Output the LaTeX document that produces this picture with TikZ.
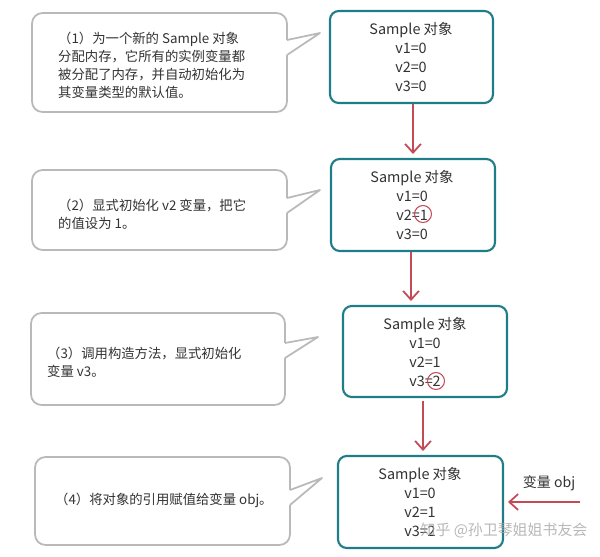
\documentclass[tikz,border=0pt]{standalone}
\usepackage{fontspec}
\setmainfont{Noto Sans CJK SC}
\usetikzlibrary{positioning}
\definecolor{boxteal}{RGB}{30,125,135}
\definecolor{arrred}{RGB}{195,75,85}
\definecolor{callgray}{RGB}{185,185,185}
\tikzset{
  objbox/.style={draw=boxteal, line width=1.2pt, rounded corners=5pt, fill=white},
  callbox/.style={draw=callgray, line width=1pt, rounded corners=6pt, fill=white},
  redarrow/.style={draw=arrred, line width=1pt, ->, >={Straight Barb[length=5pt,width=9pt]}},
  objtext/.style={font=\fontsize{8.2}{10.8}\selectfont, align=center, text=black!80},
  calltext/.style={font=\fontsize{7.6}{10.2}\selectfont, align=left, text=black!80, anchor=north west}
}
\usetikzlibrary{arrows.meta}
\begin{document}
\begin{tikzpicture}[x=0.02cm, y=-0.02cm]
    \useasboundingbox (0,0) rectangle (600,556);
    % object boxes
    \draw[objbox] (330,11) rectangle (493,103);
    \draw[objbox] (331,159) rectangle (495,251);
    \draw[objbox] (343,306) rectangle (507,397);
    \draw[objbox] (338,456) rectangle (503,548);
    \node[objtext] (o1) at (411,57) {Sample 对象\\v1=0\\v2=0\\v3=0};
    \node[objtext] (o2) at (412,205) {Sample 对象\\v1=0\\v2=1\\v3=0};
    \node[objtext] (o3) at (425,352) {Sample 对象\\v1=0\\v2=1\\v3=2};
    \node[objtext] (o4) at (420,502) {Sample 对象\\v1=0\\v2=1\\v3=2};
    \draw[arrred, line width=0.6pt] (423,214) circle [radius=0.17cm];
    \draw[arrred, line width=0.6pt] (436,381) circle [radius=0.17cm];
    % arrows
    \coordinate (a1) at (413,104); \coordinate (b1) at (413,154);
    \coordinate (a2) at (411,252); \coordinate (b2) at (411,301);
    \coordinate (a3) at (423,401); \coordinate (b3) at (423,451);
    \draw[redarrow] (a1) -- (b1);
    \draw[redarrow] (a2) -- (b2);
    \draw[redarrow] (a3) -- (b3);
    \coordinate (objend) at (580,502); \coordinate (objtip) at (508,502);
    \draw[redarrow] (objend) -- (objtip);
    \node[font=\fontsize{8}{10}\selectfont, text=black!80] (objlabel) at (549,483) {变量 obj};
    % callouts
    \foreach \xa/\ya/\xb/\yb/\tya/\tyb/\tx/\ty in
        {32/13/287/112/40/55/320/33, 32/170/287/250/198/213/320/190,
         31/313/285/405/343/358/318/337, 35/457/290/545/490/505/322/478}{
      \draw[callbox] (\xa,\ya) rectangle (\xb,\yb);
      \draw[white, line width=2pt] (\xb,\tya) -- (\xb,\tyb);
      \draw[callgray, line width=1pt, line join=round] (\xb,\tya) -- (\tx,\ty) -- (\xb,\tyb);
    }
    \node[calltext] (t1) at (52,26) {（1）为一个新的 Sample 对象\\分配内存，它所有的实例变量都\\被分配了内存，并自动初始化为\\其变量类型的默认值。};
    \node[calltext] (t2) at (52,193) {（2）显式初始化 v2 变量，把它\\的值设为 1。};
    \node[calltext] (t3) at (41,341) {（3）调用构造方法，显式初始化\\变量 v3。};
    \node[calltext] (t4) at (49,487) {（4）将对象的引用赋值给变量 obj。};
    % watermark
    \node[font=\fontsize{8.5}{10}\selectfont, text=black!35, opacity=0.8] (mark) at (504,531) {知乎 @孙卫琴姐姐书友会};
\end{tikzpicture}
\end{document}
